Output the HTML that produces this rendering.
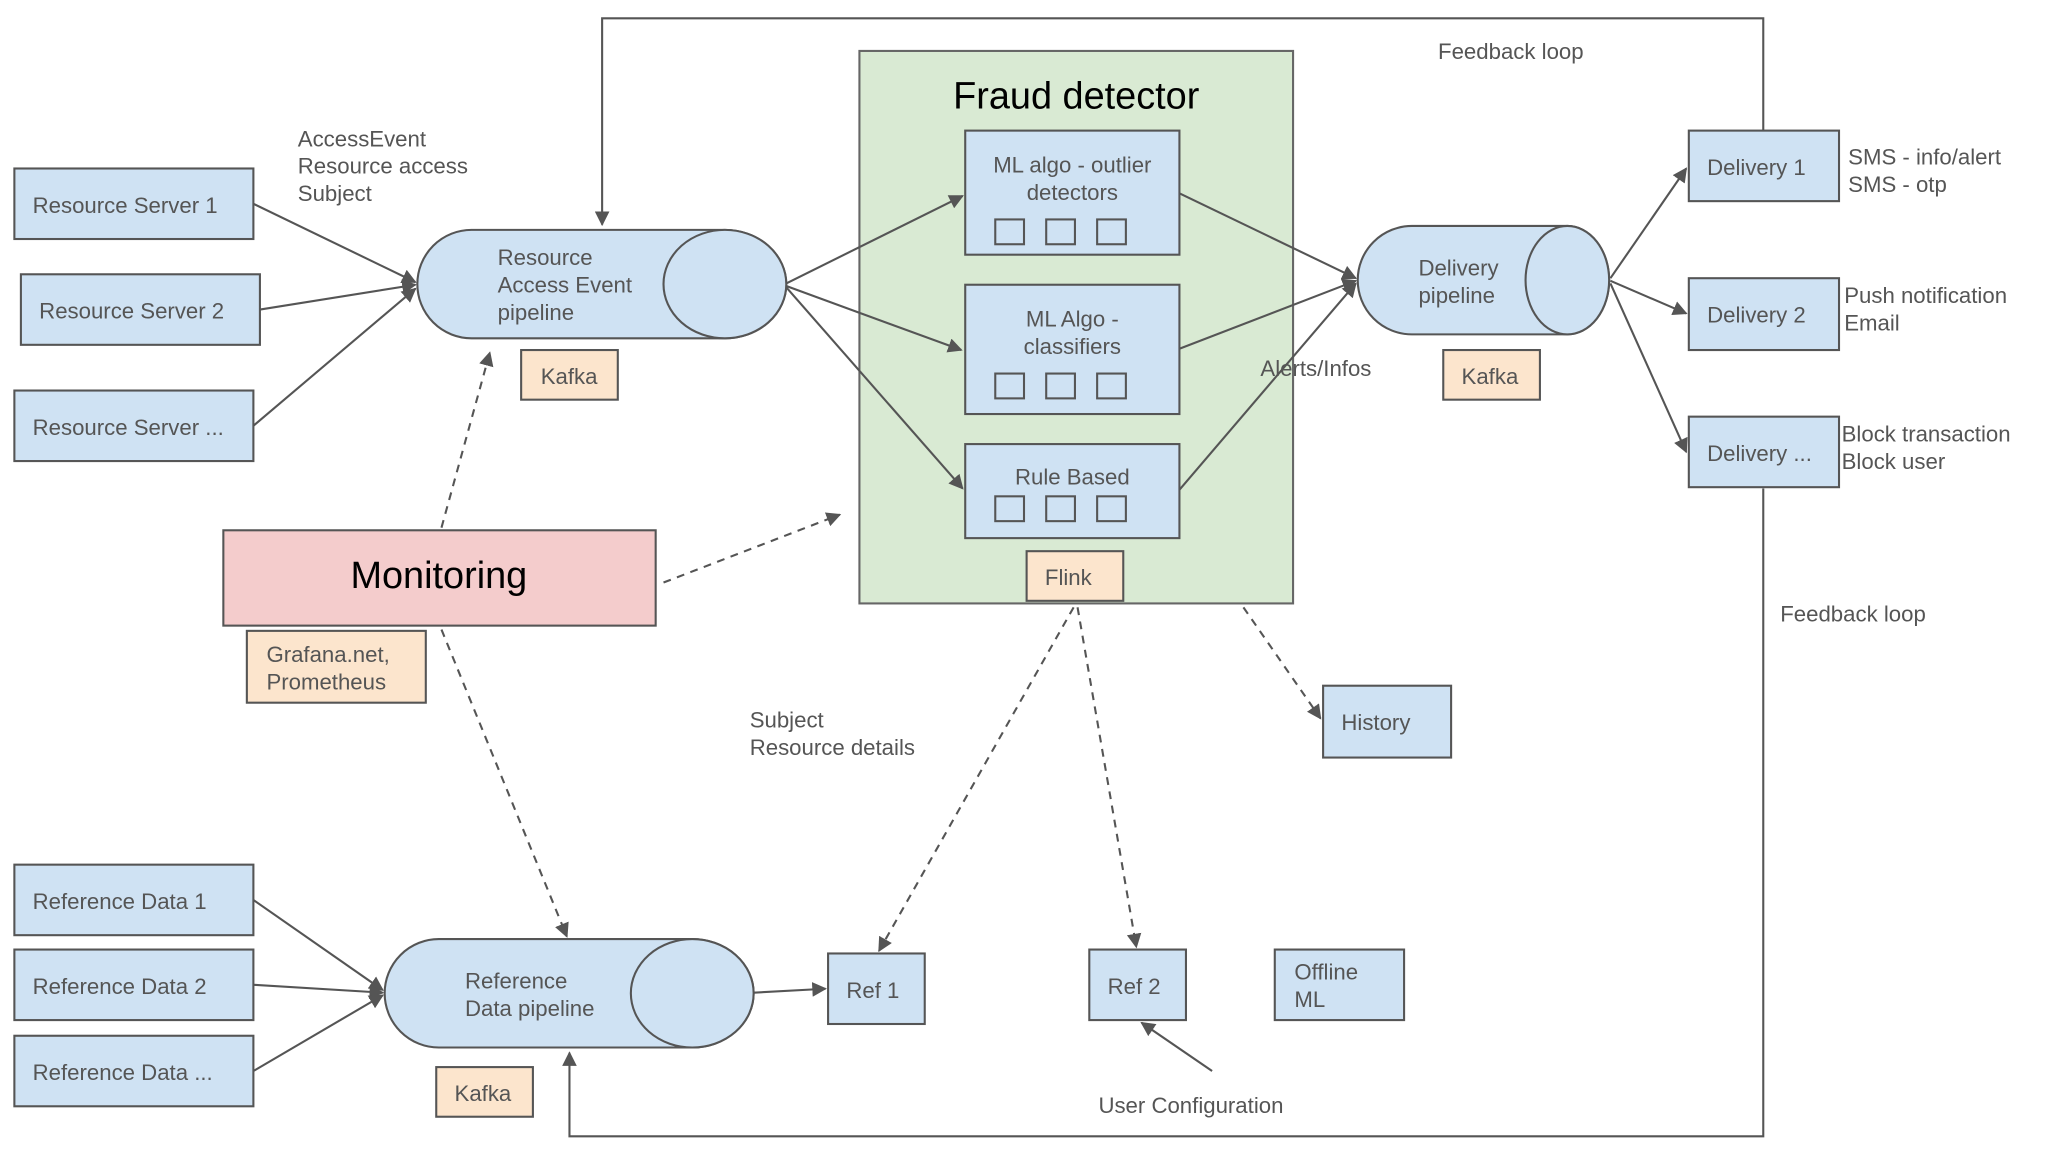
<!DOCTYPE html>
<html><head><meta charset="utf-8"><style>
html,body{margin:0;padding:0;background:#fff;}
svg{display:block}
text{font-family:"Liberation Sans",sans-serif;fill:#555;font-size:17px;}
.b{fill:#cfe2f3;stroke:#555;stroke-width:1.6}
.o{fill:#fce5cd;stroke:#555;stroke-width:1.6}
.l{stroke:#555;stroke-width:1.6;fill:none}
.d{stroke:#555;stroke-width:1.6;fill:none;stroke-dasharray:6,5}
.s{fill:none;stroke:#555;stroke-width:1.6}
</style></head><body>
<svg width="2048" height="1152" viewBox="0 0 1568 882" xmlns="http://www.w3.org/2000/svg">
<defs><marker id="a" viewBox="0 0 10 10" refX="9" refY="5" markerWidth="7" markerHeight="7" orient="auto-start-reverse"><path d="M0,0L10,5L0,10z" fill="#555"/></marker></defs>
<rect width="1568" height="882" fill="#fff"/>
<!-- feedback loops -->
<polyline class="l" points="1350,100 1350,14 461,14 461,172" marker-end="url(#a)"/>
<polyline class="l" points="1350,374 1350,870 436,870 436,806" marker-end="url(#a)"/>
<text x="1101" y="45">Feedback loop</text>
<text x="1363" y="476">Feedback loop</text>
<!-- fraud detector -->
<rect x="658" y="39" width="332" height="423" fill="#d9ead3" stroke="#666" stroke-width="1.6"/>
<text x="824" y="83" text-anchor="middle" style="font-size:29px;fill:#000">Fraud detector</text>
<rect class="b" x="739" y="100" width="164" height="95"/>
<text x="821" y="132" text-anchor="middle">ML algo - outlier</text><text x="821" y="153" text-anchor="middle">detectors</text>
<rect class="b" x="739" y="218" width="164" height="99"/>
<text x="821" y="250" text-anchor="middle">ML Algo -</text><text x="821" y="271" text-anchor="middle">classifiers</text>
<rect class="b" x="739" y="340" width="164" height="72"/>
<text x="821" y="371" text-anchor="middle">Rule Based</text>
<g class="s">
<rect x="762" y="168" width="22" height="19"/><rect x="801" y="168" width="22" height="19"/><rect x="840" y="168" width="22" height="19"/>
<rect x="762" y="286" width="22" height="19"/><rect x="801" y="286" width="22" height="19"/><rect x="840" y="286" width="22" height="19"/>
<rect x="762" y="380" width="22" height="19"/><rect x="801" y="380" width="22" height="19"/><rect x="840" y="380" width="22" height="19"/>
</g>
<rect class="o" x="786" y="422" width="74" height="38"/><text x="800" y="448">Flink</text>
<!-- resource servers -->
<rect class="b" x="11" y="129" width="183" height="54"/><text x="25" y="163">Resource Server 1</text>
<rect class="b" x="16" y="210" width="183" height="54"/><text x="30" y="244">Resource Server 2</text>
<rect class="b" x="11" y="299" width="183" height="54"/><text x="25" y="333">Resource Server ...</text>
<text x="228" y="112">AccessEvent</text><text x="228" y="133">Resource access</text><text x="228" y="154">Subject</text>
<!-- resource pipeline -->
<path class="b" d="M361,176 L555,176 A47,41.5 0 0 1 555,259 L361,259 A41.5,41.5 0 0 1 361,176z"/>
<ellipse class="b" cx="555" cy="217.5" rx="47" ry="41.5"/>
<text x="381" y="203">Resource</text><text x="381" y="224">Access Event</text><text x="381" y="245">pipeline</text>
<rect class="o" x="399" y="268" width="74" height="38"/><text x="414" y="294">Kafka</text>
<line class="l" x1="194" y1="156" x2="318" y2="216" marker-end="url(#a)"/>
<line class="l" x1="199" y1="237" x2="318" y2="218" marker-end="url(#a)"/>
<line class="l" x1="194" y1="326" x2="318" y2="221" marker-end="url(#a)"/>
<line class="l" x1="602" y1="217" x2="737" y2="150" marker-end="url(#a)"/>
<line class="l" x1="602" y1="219" x2="736" y2="268" marker-end="url(#a)"/>
<line class="l" x1="602" y1="220" x2="737" y2="374" marker-end="url(#a)"/>
<!-- delivery pipeline -->
<line class="l" x1="903" y1="148" x2="1038" y2="213" marker-end="url(#a)"/>
<line class="l" x1="903" y1="267" x2="1038" y2="215" marker-end="url(#a)"/>
<line class="l" x1="903" y1="375" x2="1038" y2="217" marker-end="url(#a)"/>
<text x="965" y="288">Alerts/Infos</text>
<path class="b" d="M1081,173 L1200,173 A32,41.5 0 0 1 1200,256 L1081,256 A41.5,41.5 0 0 1 1081,173z"/>
<ellipse class="b" cx="1200" cy="214.5" rx="32" ry="41.5"/>
<text x="1086" y="211">Delivery</text><text x="1086" y="232">pipeline</text>
<rect class="o" x="1105" y="268" width="74" height="38"/><text x="1119" y="294">Kafka</text>
<line class="l" x1="1233" y1="213" x2="1291" y2="129" marker-end="url(#a)"/>
<line class="l" x1="1233" y1="215" x2="1291" y2="240" marker-end="url(#a)"/>
<line class="l" x1="1233" y1="217" x2="1291" y2="346" marker-end="url(#a)"/>
<rect class="b" x="1293" y="100" width="115" height="54"/><text x="1307" y="134">Delivery 1</text>
<rect class="b" x="1293" y="213" width="115" height="55"/><text x="1307" y="247">Delivery 2</text>
<rect class="b" x="1293" y="319" width="115" height="54"/><text x="1307" y="353">Delivery ...</text>
<text x="1415" y="126">SMS - info/alert</text><text x="1415" y="147">SMS - otp</text>
<text x="1412" y="232">Push notification</text><text x="1412" y="253">Email</text>
<text x="1410" y="338">Block transaction</text><text x="1410" y="359">Block user</text>
<!-- monitoring -->
<rect x="171" y="406" width="331" height="73" fill="#f4cccc" stroke="#555" stroke-width="1.6"/>
<text x="336" y="450" text-anchor="middle" style="font-size:29px;fill:#000">Monitoring</text>
<rect class="o" x="189" y="483" width="137" height="55"/><text x="204" y="507">Grafana.net,</text><text x="204" y="528">Prometheus</text>
<line class="d" x1="338" y1="404" x2="375" y2="270" marker-end="url(#a)"/>
<line class="d" x1="508" y1="446" x2="643" y2="394" marker-end="url(#a)"/>
<line class="d" x1="338" y1="482" x2="434" y2="717" marker-end="url(#a)"/>
<!-- history -->
<line class="d" x1="952" y1="465" x2="1011" y2="550" marker-end="url(#a)"/>
<rect class="b" x="1013" y="525" width="98" height="55"/><text x="1027" y="559">History</text>
<text x="574" y="557">Subject</text><text x="574" y="578">Resource details</text>
<!-- refs -->
<line class="d" x1="822" y1="465" x2="673" y2="728" marker-end="url(#a)"/>
<line class="d" x1="825" y1="465" x2="870" y2="725" marker-end="url(#a)"/>
<rect class="b" x="634" y="730" width="74" height="54"/><text x="648" y="764">Ref 1</text>
<rect class="b" x="834" y="727" width="74" height="54"/><text x="848" y="761">Ref 2</text>
<rect class="b" x="976" y="727" width="99" height="54"/><text x="991" y="750">Offline</text><text x="991" y="771">ML</text>
<line class="l" x1="928" y1="820" x2="874" y2="783" marker-end="url(#a)"/>
<text x="841" y="852">User Configuration</text>
<!-- reference data -->
<rect class="b" x="11" y="662" width="183" height="54"/><text x="25" y="696">Reference Data 1</text>
<rect class="b" x="11" y="727" width="183" height="54"/><text x="25" y="761">Reference Data 2</text>
<rect class="b" x="11" y="793" width="183" height="54"/><text x="25" y="827">Reference Data ...</text>
<line class="l" x1="194" y1="689" x2="293" y2="758" marker-end="url(#a)"/>
<line class="l" x1="194" y1="754" x2="293" y2="760" marker-end="url(#a)"/>
<line class="l" x1="194" y1="820" x2="293" y2="762" marker-end="url(#a)"/>
<path class="b" d="M336,719 L530,719 A47,41.5 0 0 1 530,802 L336,802 A41.5,41.5 0 0 1 336,719z"/>
<ellipse class="b" cx="530" cy="760.5" rx="47" ry="41.5"/>
<text x="356" y="757">Reference</text><text x="356" y="778">Data pipeline</text>
<rect class="o" x="334" y="817" width="74" height="38"/><text x="348" y="843">Kafka</text>
<line class="l" x1="577" y1="760" x2="632" y2="757" marker-end="url(#a)"/>
</svg>
</body></html>
